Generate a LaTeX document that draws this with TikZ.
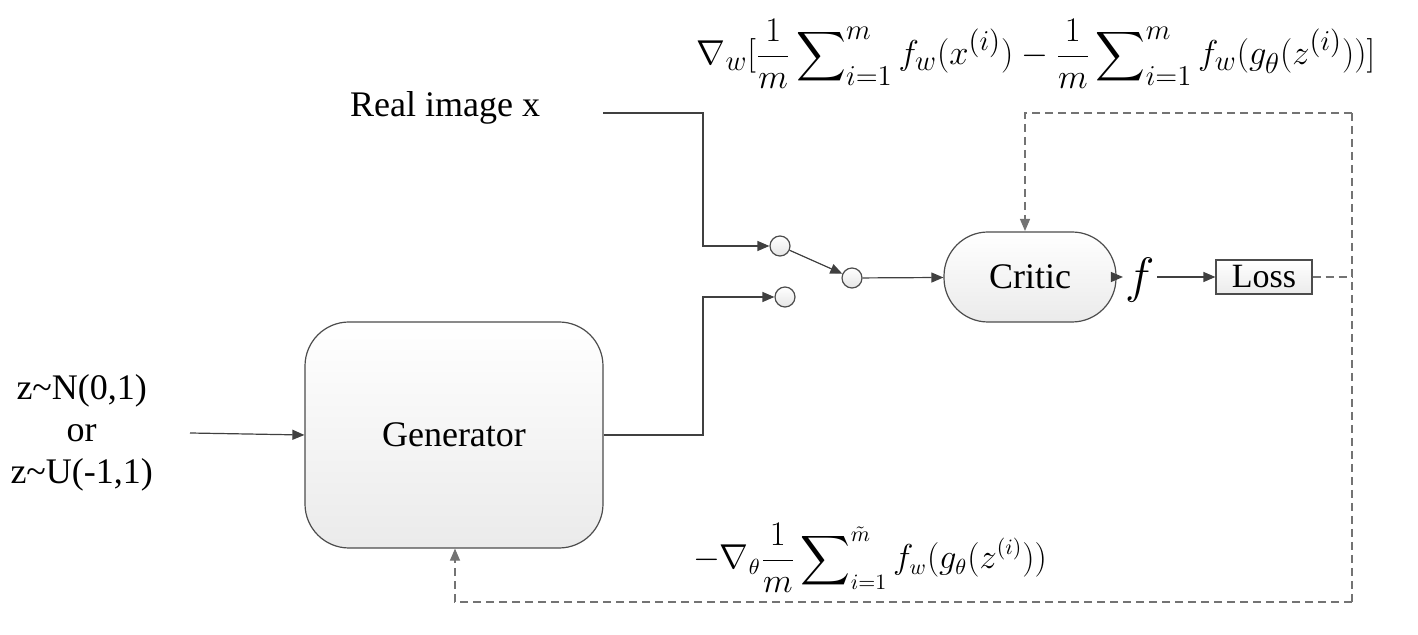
\documentclass[tikz,border=0pt]{standalone}
\usepackage{amsmath}
\usepackage{fontspec}
\setmainfont{Liberation Serif}
\usetikzlibrary{arrows.meta}
\begin{document}
\begin{tikzpicture}[x=0.5pt,y=-0.5pt,
 ln/.style={draw=black!75,line width=0.6pt},
 arr/.style={ln,-{Triangle[length=6pt,width=5pt]}},
 dsh/.style={draw=black!55,line width=0.6pt,dash pattern=on 4pt off 2.5pt},
 box/.style={draw=black!70,line width=0.6pt,top color=white,bottom color=black!8},
 circ/.style={circle,draw=black!70,line width=0.6pt,top color=white,bottom color=black!10,minimum size=10pt,inner sep=0pt},
 txt/.style={font=\fontsize{18}{21}\selectfont,align=center}]
\useasboundingbox (0,0) rectangle (1418,635);
\node[box,rounded corners=22pt,minimum width=149pt,minimum height=113pt] (gen) at (454,435) {};
\node[txt] at (gen) {Generator};
\node[box,rounded corners=22pt,minimum width=86pt,minimum height=45pt] (critic) at (1030,277) {};
\node[txt] at (critic) {Critic};
\node[box,draw=black!70,minimum width=48pt,minimum height=17pt,inner sep=0pt,font=\fontsize{17}{20}\selectfont] (loss) at (1264,277) {Loss};
\node[font=\fontsize{26}{28}\selectfont,inner sep=1pt] (f) at (1140,280) {$f$};
\node[circ] (c1) at (780,246) {};
\node[circ] (c2) at (852,278) {};
\node[circ] (c3) at (785,297) {};
\node[txt] (real) at (445,108) {Real image x};
\node[txt,anchor=east] (inp) at (160,433) {z\char`~N(0,1)\\or\\z\char`~U(-1,1)};
\coordinate (rs) at (603,113);
\coordinate (is) at (190,433);
\draw[arr] (rs) -| (703,246) -- (c1);
\draw[arr] (gen.east) -| (703,297) -- (c3);
\draw[arr] (is) -- (gen.west);
\draw[arr] (c1) -- (c2);
\draw[arr] (c2) -- (critic);
\draw[arr] (critic.east) -- (f.west |- critic.east);
\draw[arr] (f.east |- loss.west) -- (loss);
\coordinate (tr) at (1352,113);
\coordinate (br) at (1352,602);
\coordinate (bl) at (455,602);
\draw[dsh] (loss.east) -- (1352,277);
\draw[dsh,-{Triangle[length=6pt,width=5pt]}] (tr) -- (1025,113) -- (1025,231);
\draw[dsh] (tr) -- (br);
\draw[dsh,-{Triangle[length=6pt,width=5pt]}] (br) -- (bl) -- (gen.south -| bl);
\node[font=\fontsize{19}{21}\selectfont] (top) at (1036,54) {$\displaystyle\nabla_w[\frac{1}{m}\sum\nolimits_{i=1}^m f_w(x^{(i)})-\frac{1}{m}\sum\nolimits_{i=1}^m f_w(g_\theta(z^{(i)}))]$};
\node[font=\fontsize{16}{18}\selectfont] (bot) at (870,558) {$\displaystyle-\nabla_\theta\frac{1}{m}\sum\nolimits_{i=1}^{\tilde m} f_w(g_\theta(z^{(i)}))$};
\end{tikzpicture}
\end{document}
